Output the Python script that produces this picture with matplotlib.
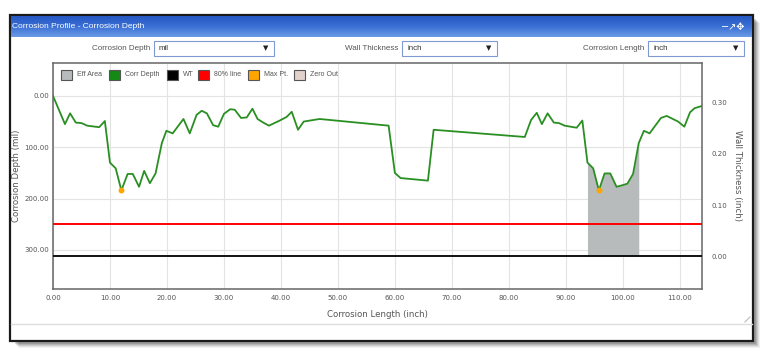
import numpy as np
import matplotlib.pyplot as plt
from matplotlib.patches import Rectangle
from matplotlib.colors import LinearSegmentedColormap

# corrosion profile
length_in = [0.0, 2.1, 3.0, 4.0, 5.0, 6.0, 8.1, 9.1, 10.0, 11.0, 12.0, 13.1, 14.0,
             15.1, 16.0, 17.0, 18.0, 19.1, 19.9, 21.0, 22.9, 24.0, 25.2, 26.1, 27.0,
             28.1, 29.0, 30.0, 31.1, 31.9, 33.0, 34.0, 35.0, 35.9, 36.9, 37.9, 39.8,
             41.0, 41.9, 43.0, 44.0, 46.8, 58.9, 60.0, 61.0, 65.8, 66.8, 82.8, 83.9,
             84.9, 85.8, 86.8, 87.9, 88.8, 89.8, 91.9, 92.9, 93.8, 94.8, 95.8, 96.8,
             97.8, 98.9, 99.9, 100.8, 101.8, 102.8, 103.7, 104.7, 106.7, 107.7, 109.7,
             110.8, 111.8, 112.6, 113.8]
depth_mil = [0, 55, 34, 52, 53, 58, 61, 49, 130, 141, 184, 152, 152,
             177, 146, 170, 151, 92, 68, 73, 45, 73, 37, 29, 34,
             57, 60, 35, 26, 27, 43, 42, 25, 45, 52, 58, 48,
             41, 31, 66, 50, 45, 58, 150, 160, 165, 66, 80, 47,
             33, 55, 34, 52, 53, 58, 62, 48, 130, 141, 184, 151,
             151, 177, 174, 171, 152, 92, 68, 73, 43, 39, 50,
             60, 32, 24, 20]

max_pt_x = [12.0, 95.8]
max_pt_depth = [184, 184]
wt_inch = 0.3125
wt_mil = 312.5
line80_mil = 250
eff_start, eff_end = 93.8, 102.8

x_ticks = [0, 10, 20, 30, 40, 50, 60, 70, 80, 90, 100, 110]
depth_ticks = [0, 100, 200, 300]
wt_ticks = [0.0, 0.1, 0.2, 0.3]

legend_labels = ['Eff Area', 'Corr Depth', 'WT', '80% line', 'Max Pt.', 'Zero Out']
legend_colors = ['#b7bbbb', '#138a13', '#000000', '#ff0000', '#ffa500', '#e2d2cb']
legend_x = [61, 109, 167, 198, 248, 294]

W, H = 768, 359
fig = plt.figure(figsize=(W / 100, H / 100), dpi=100)
fig.patch.set_facecolor('white')
plt.rcParams['font.family'] = ['Liberation Sans', 'DejaVu Sans']


def px_box(l, t, r, b):
    return [l / W, 1 - b / H, (r - l) / W, (b - t) / H]


# window chrome drawn in pixel coordinates
bg = fig.add_axes([0, 0, 1, 1], zorder=0)
bg.axis('off')

for i, a in enumerate([0.05, 0.07, 0.09, 0.11, 0.14]):
    off = 7 - i
    bg.add_patch(Rectangle((12 + off, 16 + off), 741, 325, color='black', alpha=a, lw=0))
bg.add_patch(Rectangle((10, 15), 743, 326, facecolor='white', edgecolor='#1a1a1a', lw=1.6))

grad = np.linspace(0, 1, 40).reshape(-1, 1)
bar_cmap = LinearSegmentedColormap.from_list('bar', ['#2657c2', '#3b70d5', '#6b99e6'])
bg.imshow(grad, extent=[11, 752, 37, 16], cmap=bar_cmap, aspect='auto', zorder=1)
bg.set_xlim(0, W)
bg.set_ylim(H, 0)
bg.text(12, 27, 'Corrosion Profile - Corrosion Depth', color='white', fontsize=6,
        va='center', ha='left')
bg.text(745, 27, '−↗✥', color='white', fontsize=7, va='center', ha='right',
        family=['DejaVu Sans'])

dropdowns = [('Corrosion Depth', 'mil', 154, 274),
             ('Wall Thickness', 'inch', 402, 497),
             ('Corrosion Length', 'inch', 648, 744)]
for label, value, x0, x1 in dropdowns:
    bg.text(x0 - 4, 48, label, color='#555555', fontsize=5.8, ha='right', va='center')
    bg.add_patch(Rectangle((x0, 41), x1 - x0, 15, facecolor='white', edgecolor='#7f9ad2', lw=0.8))
    bg.text(x0 + 5, 48.5, value, color='#333333', fontsize=5.8, ha='left', va='center')
    bg.text(x1 - 8, 48.5, '▼', color='#222222', fontsize=5, ha='center', va='center',
            family=['DejaVu Sans'])

bg.plot([11, 752], [324, 324], color='#dddddd', lw=1)
bg.plot([745, 750], [322, 317], color='#bbbbbb', lw=0.8)

# chart
ax = fig.add_axes(px_box(53, 63, 702, 289), zorder=2)
ax.set_facecolor('white')
ax.set_xlim(0, 113.9)
ax.set_ylim(376, -64)

xa = np.array(length_in)
da = np.array(depth_mil)
inside = (xa > eff_start) & (xa < eff_end)
fx = np.concatenate([[eff_start], xa[inside], [eff_end]])
fd = np.interp(fx, xa, da)
ax.fill_between(fx, fd, wt_mil, color=legend_colors[0], lw=0, zorder=2)

ax.axhline(line80_mil, color='#ff0000', lw=1.4, zorder=3)
ax.axhline(wt_mil, color='#111111', lw=1.4, zorder=3)
ax.plot(length_in, depth_mil, color='#2a8f22', lw=1.3, zorder=4)
ax.scatter(max_pt_x, max_pt_depth, s=18, color='#ffa500', zorder=5, lw=0)

ax.set_xticks(x_ticks)
ax.set_xticklabels([f'{v:.2f}' for v in x_ticks])
ax.set_yticks(depth_ticks)
ax.set_yticklabels([f'{v:.2f}' for v in depth_ticks])
ax.grid(color='#e3e3e3', lw=0.8)
ax.set_axisbelow(True)
ax.tick_params(length=0, labelsize=5.0, labelcolor='#555555', pad=4)
ax.tick_params(axis='y', pad=3)
for s in ax.spines.values():
    s.set_color('#666666')
    s.set_linewidth(1.1)
ax.set_xlabel('Corrosion Length (inch)', fontsize=6.2, color='#555555',
              family=['DejaVu Sans'])
ax.xaxis.set_label_coords(0.5, -(310 - 289) / 226)
ax.set_ylabel('Corrosion Depth (mil)', fontsize=6.2, color='#555555', va='center',
              family=['DejaVu Sans'])
ax.yaxis.set_label_coords(-(53 - 17) / 649, 0.5)
for t in ax.get_xticklabels() + ax.get_yticklabels():
    t.set_family(['DejaVu Sans'])

ax2 = ax.twinx()
ax2.set_ylim(wt_inch - 0.376, wt_inch + 0.064)
ax2.set_yticks(wt_ticks)
ax2.set_yticklabels([f'{v:.2f}' for v in wt_ticks])
ax2.tick_params(length=0, labelsize=5.0, labelcolor='#555555', pad=7)
for t in ax2.get_yticklabels():
    t.set_family(['DejaVu Sans'])
for s in ax2.spines.values():
    s.set_visible(False)
ax2.set_ylabel('Wall Thickness (inch)', fontsize=6.2, color='#555555', rotation=270,
               va='center', family=['DejaVu Sans'])
ax2.yaxis.set_label_coords(1 + (738 - 702) / 649, 0.5)

# legend row inside the plot
ov = fig.add_axes([0, 0, 1, 1], zorder=5)
ov.set_xlim(0, W)
ov.set_ylim(H, 0)
ov.axis('off')
for lab, col, lx in zip(legend_labels, legend_colors, legend_x):
    ov.add_patch(Rectangle((lx, 70), 11, 10, facecolor=col, edgecolor='#555555', lw=0.8))
    ov.text(lx + 16, 74.5, lab, fontsize=5, color='#555555', va='center', ha='left')

fig.savefig('out.png', dpi=100, facecolor='white')
